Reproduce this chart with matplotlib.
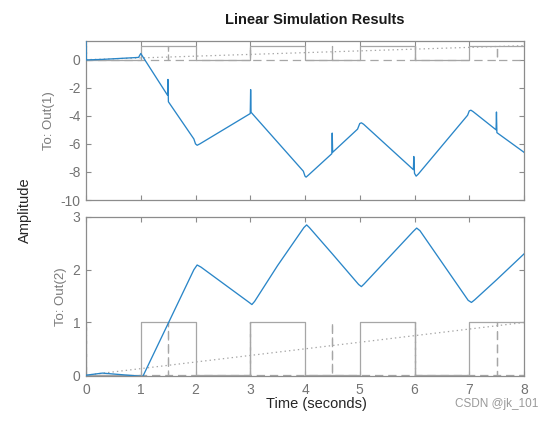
import matplotlib
matplotlib.use("Agg")
import matplotlib.pyplot as plt
import numpy as np

# ---------------- data ----------------
# input 1: square wave (solid gray)
sq_t = [0, 1, 1, 2, 2, 3, 3, 4, 4, 5, 5, 6, 6, 7, 7, 8]
sq_v = [0, 0, 1, 1, 0, 0, 1, 1, 0, 0, 1, 1, 0, 0, 1, 1]
# input 2: impulse train (dashed gray)
imp_times = [0, 1.5, 3, 4.5, 6, 7.5]
imp_height = 1.0
t_end = 8.0
# input 3: ramp (dotted gray)
ramp_t = [0, 8]
ramp_v = [0, 1]

# output 1
out1_t = [0, 0.005, 0.3, 0.96, 1.0, 1.49, 1.497, 1.505, 1.97, 2.0, 2.03, 2.08,
          3.0, 3.007, 3.015, 3.97, 4.0, 4.02, 4.07, 4.49, 4.497, 4.505,
          4.96, 5.0, 5.03, 5.07, 5.98, 5.987, 6.0, 6.03, 6.07,
          6.97, 7.0, 7.03, 7.07, 7.49, 7.497, 7.505, 8.0]
out1_v = [1.33, -0.02, 0.02, 0.16, 0.44, -2.54, -1.41, -3.0, -5.65, -6.0, -6.1, -6.0,
          -3.84, -2.13, -3.75, -7.95, -8.3, -8.37, -8.2, -6.7, -5.23, -6.6,
          -4.95, -4.55, -4.5, -4.6, -7.84, -6.9, -8.1, -8.3, -8.15,
          -3.96, -3.65, -3.6, -3.7, -5.0, -3.73, -5.2, -6.6]

# output 2
out2_t = [0, 0.3, 1.0, 1.03, 1.5, 1.97, 2.03, 2.1, 2.98, 3.03, 3.08, 3.5,
          3.98, 4.03, 4.08, 4.5, 4.98, 5.03, 5.08, 5.98, 6.04, 6.1,
          6.98, 7.04, 7.1, 7.5, 8.0]
out2_v = [0.0, 0.04, -0.02, -0.04, 0.98, 2.0, 2.09, 2.05, 1.38, 1.34, 1.4, 2.08,
          2.8, 2.85, 2.8, 2.3, 1.72, 1.68, 1.73, 2.73, 2.79, 2.74,
          1.42, 1.38, 1.43, 1.81, 2.3]

x_ticks = [0, 1, 2, 3, 4, 5, 6, 7, 8]
y1_ticks = [0, -2, -4, -6, -8, -10]
y2_ticks = [0, 1, 2, 3]
y1_lim = (-10, 1.33)
y2_lim = (-0.015, 3.0)

title = "Linear Simulation Results"
xlabel = "Time (seconds)"
ylabel = "Amplitude"
row_labels = ["To: Out(1)", "To: Out(2)"]
watermark = "CSDN @jk_101"

# ---------------- style ----------------
plt.rcParams['font.family'] = ['Liberation Sans', 'DejaVu Sans']
plt.rcParams['lines.scale_dashes'] = False
plt.rcParams['axes.unicode_minus'] = False

blue = '#2a86c8'
gray = '#a6a6a6'
spine_c = '#8c8c8c'
tick_c = '#737373'

fig = plt.figure(figsize=(5.53, 4.21), dpi=100)
W, H = 553, 421
def pos(l, t, r, b):
    return [l / W, 1 - b / H, (r - l) / W, (b - t) / H]

ax1 = fig.add_axes(pos(86, 41, 524, 200))
ax2 = fig.add_axes(pos(86, 217, 524, 376))

# impulse line construction
imp_t, imp_v = [], []
for ti in imp_times:
    imp_t += [ti, ti, ti]
    imp_v += [0, imp_height, 0]
imp_t.append(t_end)
imp_v.append(0)

for ax, (ot, ov), ylim, yt, lab in [
        (ax1, (out1_t, out1_v), y1_lim, y1_ticks, row_labels[0]),
        (ax2, (out2_t, out2_v), y2_lim, y2_ticks, row_labels[1])]:
    ax.plot(sq_t, sq_v, color=gray, lw=0.9, zorder=2)
    ax.plot(imp_t, imp_v, color=gray, lw=0.9, dashes=(6, 3.5), zorder=2)
    ax.plot(ramp_t, ramp_v, color=gray, lw=0.9, dashes=(1, 2.2), zorder=2)
    ax.plot(ot, ov, color=blue, lw=0.95, zorder=3)
    ax.set_xlim(0, 8)
    ax.set_ylim(*ylim)
    ax.set_xticks(x_ticks)
    ax.set_yticks(yt)
    for s in ax.spines.values():
        s.set_color(spine_c)
        s.set_linewidth(0.9)
    ax.tick_params(direction='in', length=3.5, width=0.8, colors=spine_c,
                   labelcolor=tick_c, labelsize=10, top=True, right=True, pad=4)
    ax.tick_params(axis='x', pad=5)
    ax.set_ylabel(lab, color='#7a7a7a', fontsize=9.5, labelpad=4)

ax1.tick_params(labelbottom=False)

fig.text(315 / W, 1 - 20 / H, title, ha='center', va='center',
         fontsize=10.5, fontweight='bold', color='#1a1a1a')
fig.text(316 / W, 1 - 404 / H, xlabel, ha='center', va='center',
         fontsize=10.5, color='#262626')
fig.text(25 / W, 1 - 210 / H, ylabel, ha='center', va='center', rotation=90,
         fontsize=10.5, color='#262626')
fig.text(497 / W, 1 - 404 / H, watermark, ha='center', va='center',
         fontsize=8.5, color='#9a9a9a')

fig.savefig('out.png', dpi=100)
